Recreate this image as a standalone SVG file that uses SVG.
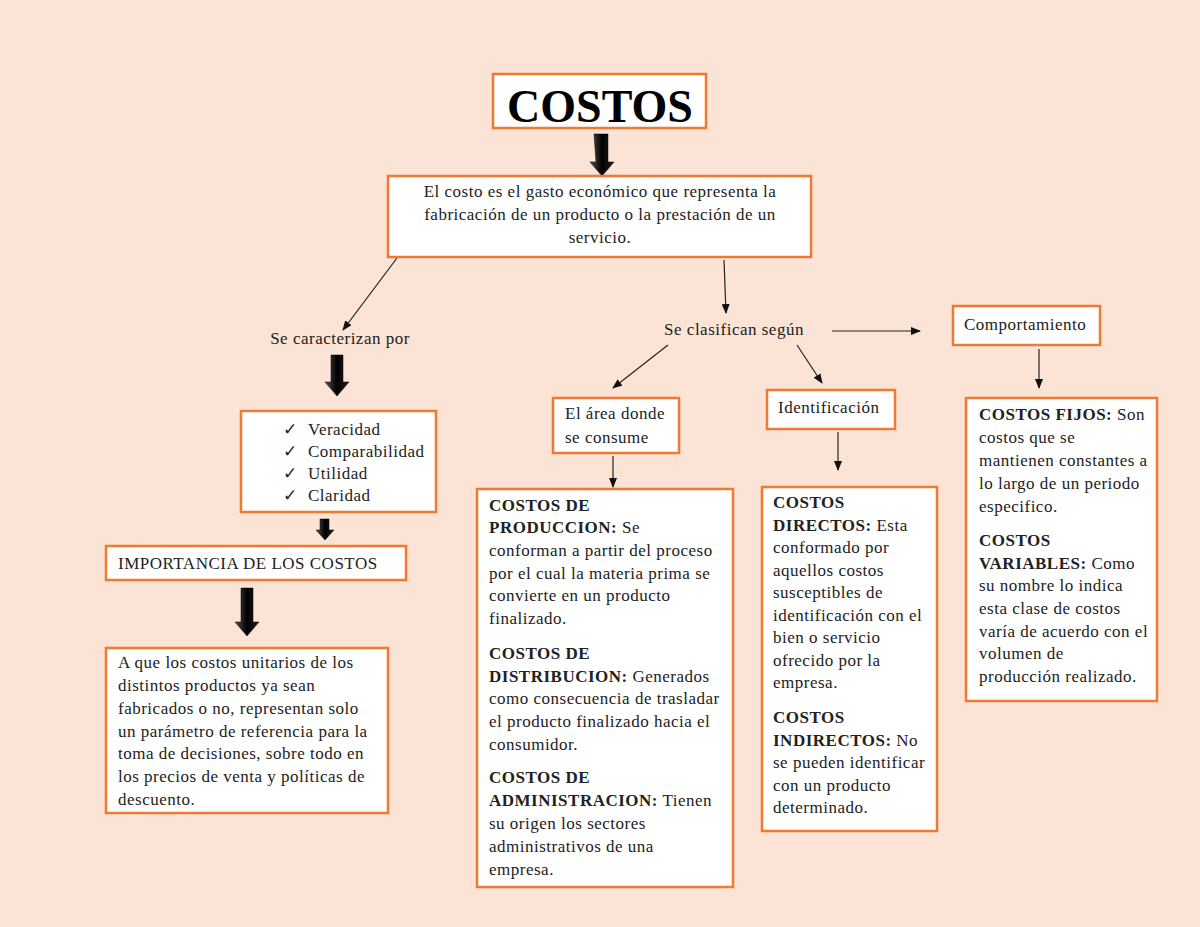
<svg xmlns="http://www.w3.org/2000/svg" width="1200" height="927" viewBox="0 0 1200 927">
<style>
.b{fill:#fff;stroke:#f07a32;stroke-width:2.5}
text{font-family:"Liberation Serif",serif;font-size:17px;letter-spacing:0.5px;fill:#222}
.c{text-anchor:middle}
.l{stroke:#222;stroke-width:1.2;fill:none;marker-end:url(#ah)}
.t{fill:url(#g);stroke:#000;stroke-width:0.5}
</style>
<defs>
<marker id="ah" markerWidth="10" markerHeight="8" refX="9" refY="4" orient="auto" markerUnits="userSpaceOnUse"><path d="M0,0L10,4L0,8z" fill="#111"/></marker>
<linearGradient id="g" x1="0" x2="1"><stop offset="0" stop-color="#555"/><stop offset="0.5" stop-color="#000"/><stop offset="1" stop-color="#222"/></linearGradient>
</defs>
<rect width="1200" height="927" fill="#fbe3d6"/>
<g id="connectors">
<path class="t" d="M594,134h14v28h6l-12,14l-12,-14h6z"/>
<path class="t" d="M331,355h12v27h6l-12,14l-12,-14h6z"/>
<path class="t" d="M320,519h9v11h5l-9,10l-9,-10h4z"/>
<path class="t" d="M241,588h12v34h6l-12,14l-12,-14h6z"/>
<path class="l" d="M397,258L343,330"/>
<path class="l" d="M724,260L726,313"/>
<path class="l" d="M668,345L613,388"/>
<path class="l" d="M797,345L822,383"/>
<path class="l" d="M832,331L920,331"/>
<path class="l" d="M1039,349L1039,388"/>
<path class="l" d="M613,456L613,487"/>
<path class="l" d="M838,432L838,470"/>
<text class="c" x="340" y="344">Se caracterizan por</text>
<text class="c" x="734" y="335">Se clasifican según</text>
</g>
<g id="costos"><rect class="b" x="493" y="74" width="213" height="54"/><text class="c" x="600" y="122" style="font-size:46px;letter-spacing:0;font-weight:bold;fill:#000">COSTOS</text></g>
<g id="def"><rect class="b" x="388" y="176" width="423" height="81"/>
<text class="c" x="600" y="197">El costo es el gasto económico que representa la</text>
<text class="c" x="600" y="220">fabricación de un producto o la prestación de un</text>
<text class="c" x="600" y="243">servicio.</text></g>
<g id="caract"><rect class="b" x="241" y="411" width="195" height="101"/>
<text x="283" y="435">✓</text><text x="308" y="435">Veracidad</text>
<text x="283" y="457">✓</text><text x="308" y="457">Comparabilidad</text>
<text x="283" y="479">✓</text><text x="308" y="479">Utilidad</text>
<text x="283" y="501">✓</text><text x="308" y="501">Claridad</text></g>
<g id="importancia"><rect class="b" x="106" y="546" width="300" height="34"/><text x="118" y="569">IMPORTANCIA DE LOS COSTOS</text></g>
<g id="aque"><rect class="b" x="106" y="648" width="282" height="165"/>
<text x="118" y="668">A que los costos unitarios de los</text>
<text x="118" y="691">distintos productos ya sean</text>
<text x="118" y="714">fabricados o no, representan solo</text>
<text x="118" y="737">un parámetro de referencia para la</text>
<text x="118" y="759">toma de decisiones, sobre todo en</text>
<text x="118" y="782">los precios de venta y políticas de</text>
<text x="118" y="805">descuento.</text></g>
<g id="comport"><rect class="b" x="953" y="306" width="147" height="39"/><text x="964" y="330">Comportamiento</text></g>
<g id="area"><rect class="b" x="553" y="398" width="126" height="55"/><text x="565" y="419">El área donde</text><text x="565" y="443">se consume</text></g>
<g id="ident"><rect class="b" x="767" y="390" width="128" height="39"/><text x="778" y="413">Identificación</text></g>
<g id="prod"><rect class="b" x="477" y="489" width="256" height="398"/>
<text x="489" y="511" font-weight="bold">COSTOS DE</text>
<text x="489" y="533"><tspan font-weight="bold">PRODUCCION:</tspan> Se</text>
<text x="489" y="556">conforman a partir del proceso</text>
<text x="489" y="579">por el cual la materia prima se</text>
<text x="489" y="601">convierte en un producto</text>
<text x="489" y="624">finalizado.</text>
<text x="489" y="659" font-weight="bold">COSTOS DE</text>
<text x="489" y="682"><tspan font-weight="bold">DISTRIBUCION:</tspan> Generados</text>
<text x="489" y="704">como consecuencia de trasladar</text>
<text x="489" y="727">el producto finalizado hacia el</text>
<text x="489" y="750">consumidor.</text>
<text x="489" y="783" font-weight="bold">COSTOS DE</text>
<text x="489" y="806"><tspan font-weight="bold">ADMINISTRACION:</tspan> Tienen</text>
<text x="489" y="829">su origen los sectores</text>
<text x="489" y="852">administrativos de una</text>
<text x="489" y="875">empresa.</text></g>
<g id="directos"><rect class="b" x="762" y="487" width="175" height="344"/>
<text x="773" y="508" font-weight="bold">COSTOS</text>
<text x="773" y="531"><tspan font-weight="bold">DIRECTOS:</tspan> Esta</text>
<text x="773" y="553">conformado por</text>
<text x="773" y="576">aquellos costos</text>
<text x="773" y="598">susceptibles de</text>
<text x="773" y="621">identificación con el</text>
<text x="773" y="643">bien o servicio</text>
<text x="773" y="666">ofrecido por la</text>
<text x="773" y="688">empresa.</text>
<text x="773" y="723" font-weight="bold">COSTOS</text>
<text x="773" y="746"><tspan font-weight="bold">INDIRECTOS:</tspan> No</text>
<text x="773" y="768">se pueden identificar</text>
<text x="773" y="791">con un producto</text>
<text x="773" y="813">determinado.</text></g>
<g id="fijos"><rect class="b" x="966" y="398" width="191" height="303"/>
<text x="979" y="420"><tspan font-weight="bold">COSTOS FIJOS:</tspan> Son</text>
<text x="979" y="443">costos que se</text>
<text x="979" y="466">mantienen constantes a</text>
<text x="979" y="489">lo largo de un periodo</text>
<text x="979" y="512">especifico.</text>
<text x="979" y="546" font-weight="bold">COSTOS</text>
<text x="979" y="569"><tspan font-weight="bold">VARIABLES:</tspan> Como</text>
<text x="979" y="591">su nombre lo indica</text>
<text x="979" y="614">esta clase de costos</text>
<text x="979" y="637">varía de acuerdo con el</text>
<text x="979" y="659">volumen de</text>
<text x="979" y="682">producción realizado.</text></g>
</svg>
